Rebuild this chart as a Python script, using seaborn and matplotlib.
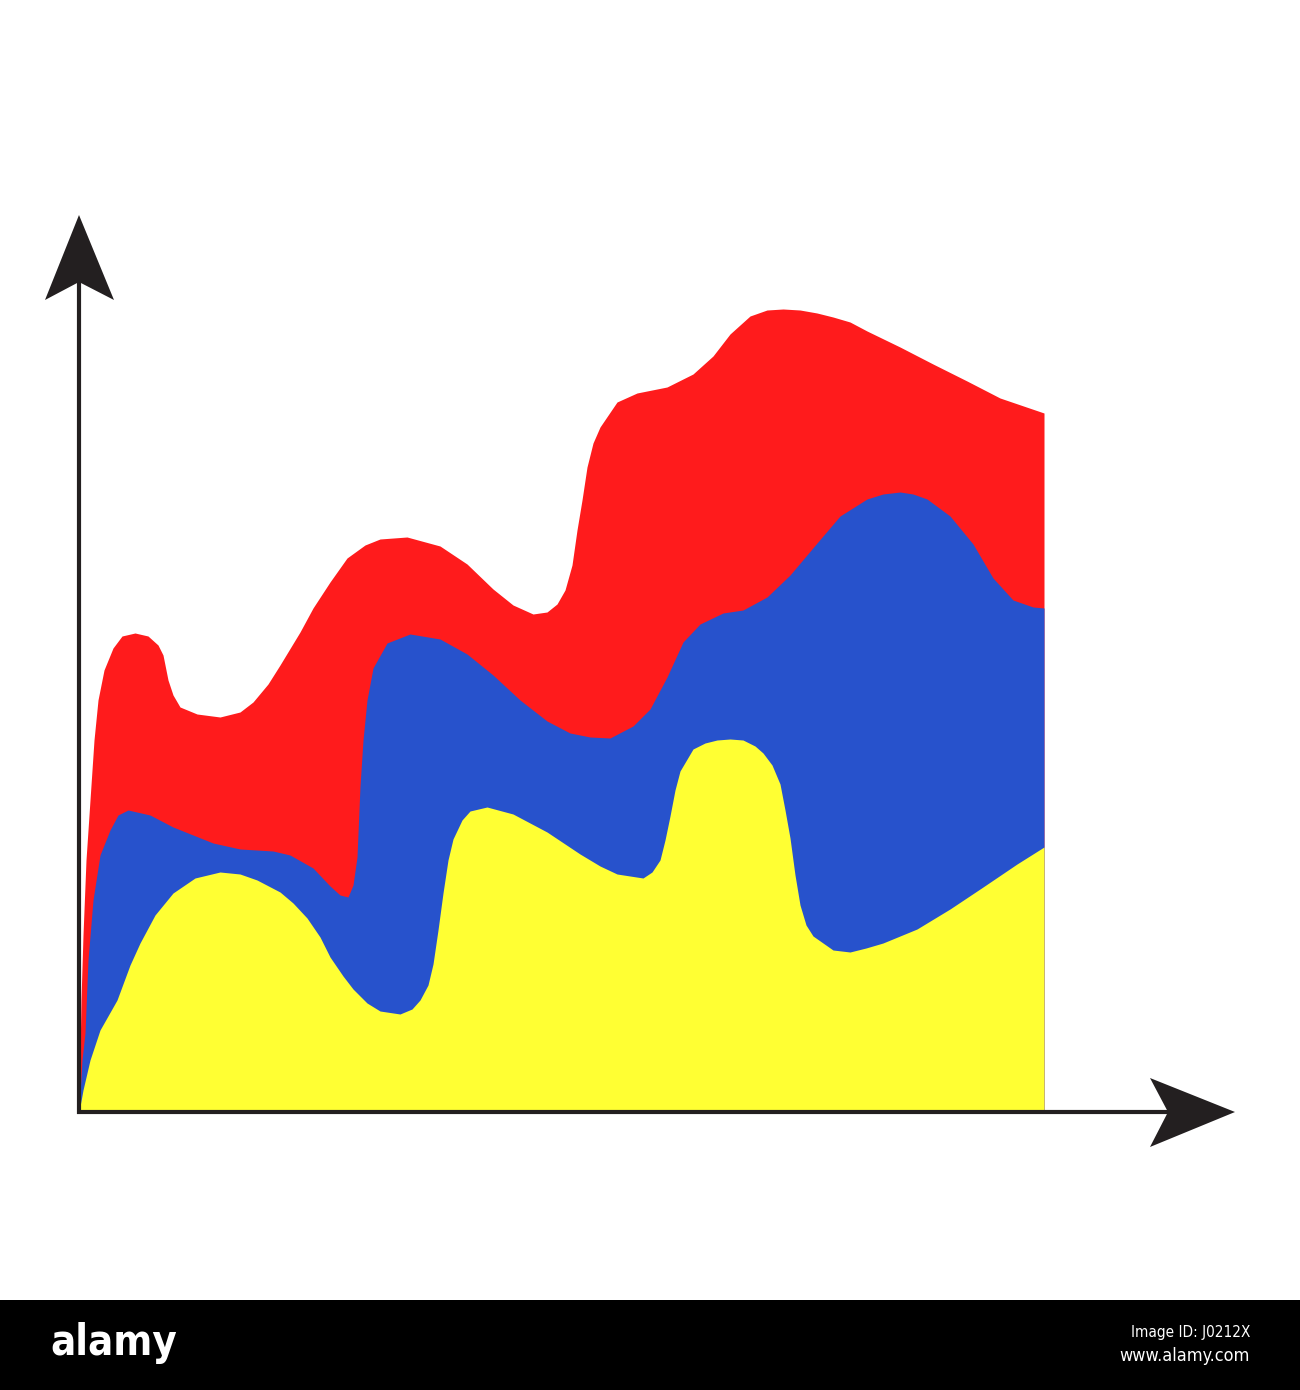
import matplotlib
matplotlib.use("Agg")
import matplotlib.pyplot as plt
from matplotlib.patches import Polygon, Rectangle
import seaborn as sns

# ---------------------------------------------------------
# Layer outlines (x offset from origin, cumulative height)
# ---------------------------------------------------------
red_x = [0, 2, 4, 7, 11, 15, 19, 25, 34, 43, 56, 69, 79, 84, 89, 94, 101, 118, 141, 161,
         174, 189, 201, 221, 234, 251, 268, 286, 301, 328, 361, 388, 414, 434, 454, 468, 478, 486, 493, 498,
         503, 508, 514, 521, 538, 558, 588, 614, 634, 651, 671, 688, 704, 721, 738, 754, 771, 788, 821, 854,
         888, 921, 965]
red_top = [0, 112, 177, 252, 312, 372, 412, 442, 464, 476, 479, 476, 467, 457, 432, 417, 405, 398, 395, 400,
           410, 428, 447, 480, 504, 530, 554, 567, 573, 575, 566, 548, 523, 507, 498, 500, 508, 522, 547, 582,
           612, 645, 669, 685, 710, 719, 725, 738, 756, 778, 796, 802, 803, 802, 799, 795, 790, 781, 765, 748,
           731, 714, 699]

blue_x = [0, 3, 6, 9, 14, 21, 31, 39, 49, 71, 94, 134, 161, 194, 211, 234, 251, 261, 269, 274,
          278, 281, 284, 288, 294, 308, 331, 361, 388, 414, 441, 468, 491, 511, 531, 554, 571, 588, 604, 621,
          644, 664, 688, 711, 738, 761, 788, 804, 821, 834, 848, 871, 894, 914, 934, 954, 965]
blue_top = [0, 52, 79, 152, 212, 257, 282, 297, 302, 297, 285, 269, 263, 261, 257, 244, 226, 217, 215, 227,
            255, 326, 372, 412, 444, 469, 478, 473, 458, 437, 412, 391, 379, 375, 374, 386, 403, 435, 470, 488,
            499, 502, 515, 537, 569, 596, 613, 618, 620, 618, 613, 596, 568, 534, 512, 505, 504]

yellow_x = [0, 4, 11, 21, 38, 51, 61, 76, 94, 116, 141, 161, 178, 201, 214, 228, 241, 251, 264, 274,
            288, 301, 321, 333, 341, 349, 354, 359, 364, 369, 374, 383, 391, 408, 434, 468, 501, 521, 538, 564,
            573, 581, 586, 591, 596, 601, 614, 626, 638, 651, 664, 676, 684, 693, 701, 706, 711, 716, 721, 727,
            734, 754, 771, 787, 804, 838, 871, 904, 938, 965]
yellow_top = [0, 22, 52, 82, 112, 147, 169, 197, 219, 234, 240, 238, 232, 220, 209, 194, 175, 155, 136, 123,
              109, 101, 98, 103, 112, 127, 148, 182, 219, 252, 273, 292, 301, 305, 298, 280, 258, 246, 238, 234,
              240, 252, 272, 296, 322, 341, 363, 369, 372, 373, 372, 366, 359, 347, 328, 302, 274, 237, 207, 187,
              176, 162, 160, 164, 169, 183, 203, 225, 248, 265]

layer_colors = ["#ff1b1c", "#2752cc", "#ffff33"]

sns.set_theme(style="white")
plt.rcParams["font.family"] = ["Liberation Sans Narrow", "DejaVu Sans"]
palette = sns.color_palette(layer_colors)

fig = plt.figure(figsize=(13, 13.9), dpi=100)
fig.patch.set_facecolor("white")
ax = fig.add_axes([0, 0, 1, 1])
ax.set_xlim(-79, 1221)
ax.set_ylim(-278, 1112)
ax.axis("off")

# painted back to front: red, then blue, then yellow
for xs, ys, col in [(red_x, red_top, palette[0]),
                    (blue_x, blue_top, palette[1]),
                    (yellow_x, yellow_top, palette[2])]:
    ax.fill_between(xs, ys, 0, color=col, linewidth=0, zorder=2)

# axes with notched arrow heads
axis_col = "#231f20"
ax.plot([0, 0], [-2, 832], color=axis_col, lw=3.0, solid_capstyle="butt", zorder=4)
ax.plot([-2, 1091], [0, 0], color=axis_col, lw=3.0, solid_capstyle="butt", zorder=4)
ax.add_patch(Polygon([[0, 897], [-34, 812], [0, 830], [35, 812]], closed=True,
                     facecolor=axis_col, edgecolor="none", zorder=5))
ax.add_patch(Polygon([[1156, 0], [1071, 34], [1089, 0], [1071, -35]], closed=True,
                     facecolor=axis_col, edgecolor="none", zorder=5))

# footer band
fig.patches.append(Rectangle((0, 0), 1, 90 / 1390, transform=fig.transFigure,
                             facecolor="black", edgecolor="none", zorder=0))
fig.text(50 / 1300, (1390 - 1343) / 1390, "alamy", color="white", fontsize=30,
         fontweight="bold", fontstretch="condensed", ha="left", va="center")
fig.text(1250 / 1300, (1390 - 1332) / 1390, "Image ID: J0212X", color="white", fontsize=11,
         fontstretch="condensed", ha="right", va="center")
fig.text(1250 / 1300, (1390 - 1356) / 1390, "www.alamy.com", color="white", fontsize=13,
         fontstretch="condensed", ha="right", va="center")

fig.savefig("out.png", dpi=100, facecolor="white")
